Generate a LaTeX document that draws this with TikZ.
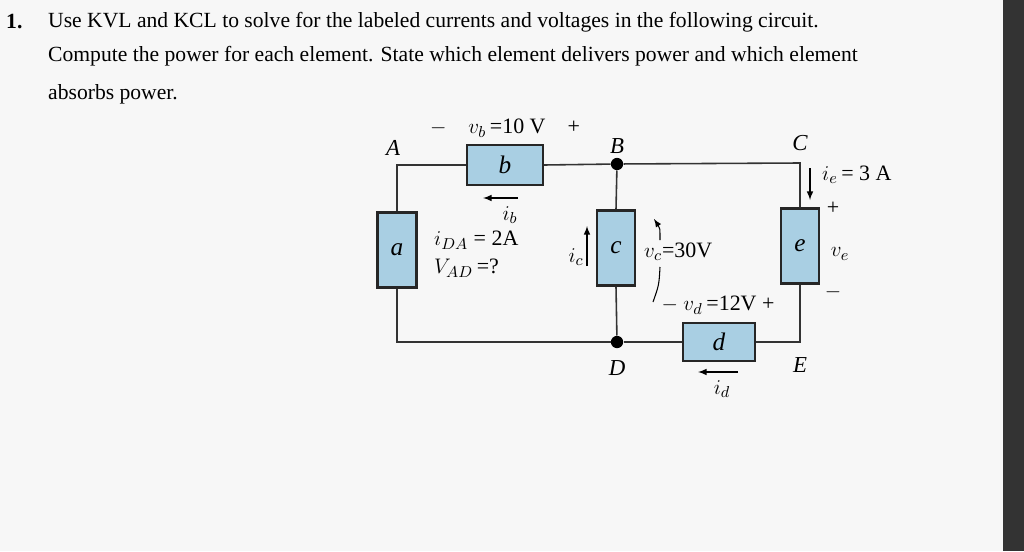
\documentclass[tikz,border=0pt]{standalone}
\usepackage{fontspec}
\setmainfont{Liberation Serif}
\definecolor{boxblue}{HTML}{A9CFE3}
\tikzset{
 el/.style={draw=black!85,line width=1.4pt,fill=boxblue},
 wire/.style={draw=black!80,line width=0.9pt},
 lbl/.style={font=\fontsize{13}{15}\selectfont\itshape},
 sm/.style={font=\fontsize{12.5}{15}\selectfont},
 txt/.style={font=\fontsize{12.3}{14}\selectfont,anchor=west},
 cur/.style={-latex,line width=0.7pt},
 dot/.style={circle,fill=black,inner sep=0pt,minimum size=7pt}
}
\begin{document}
\begin{tikzpicture}[x=0.02cm,y=-0.02cm]
\fill[gray!6] (0,0) rectangle (1024,551);
\fill[black!80] (1003,0) rectangle (1024,551);
\node[txt] at (0,22) {\textbf{1.}};
\node[txt] (l1) at (42,22) {Use KVL and KCL to solve for the labeled currents and voltages in the following circuit.};
\node[txt] (l2) at (42,56) {Compute the power for each element. State which element delivers power and which element};
\node[txt] (l3) at (42,94) {absorbs power.};
\coordinate (A) at (401,164);
\node[dot] (B) at (617,164) {};
\node[dot] (D) at (617,342) {};
\coordinate (C) at (800,163);
\node[el,minimum width=0.78cm,minimum height=1.5cm] (a) at (397,250) {\itshape\Large a};
\node[el,minimum width=1.52cm,minimum height=0.8cm] (b) at (505,165) {\itshape\Large b};
\node[el,minimum width=0.76cm,minimum height=1.5cm] (c) at (616,248) {\itshape\Large c};
\node[el,minimum width=0.76cm,minimum height=1.5cm] (e) at (800,246) {\itshape\Large e};
\node[el,minimum width=1.44cm,minimum height=0.76cm] (d) at (719,342) {\itshape\Large d};
\draw[wire] (a.north) |- (b.west);
\draw[wire] (b.east) -- (B) -- (C) -- (e.north);
\draw[wire] (B) -- (c.north);
\draw[wire] (c.south) -- (D);
\draw[wire] (a.south) |- (D) -- (d.west);
\draw[wire] (d.east) -| (e.south);
\node[lbl] at (393,148) {A};
\node[lbl] at (617,146) {B};
\node[lbl] at (800,143) {C};
\node[lbl] at (617,368) {D};
\node[lbl] at (800,365) {E};
\node[sm] at (505,128) {$-$\quad $v_b$\,=10 V\quad +};
\coordinate (ib1) at (518,198); \coordinate (ib2) at (483,198);
\draw[cur] (ib1) -- (ib2);
\node[sm] at (510,215) {$i_b$};
\node[sm,anchor=west] at (428,240) {$i_{DA}$ = 2A};
\node[sm,anchor=west] at (428,268) {$V_{AD}$\,=?};
\coordinate (ic1) at (587,266); \coordinate (ic2) at (587,226);
\draw[cur] (ic1) -- (ic2);
\node[sm] at (576,257) {$i_c$};
\node[sm,anchor=west] at (638,252) {$v_c$=30V};
\draw[-latex,line width=0.6pt] (660,240) .. controls (660,228) .. (654,219);
\draw[line width=0.6pt] (660,267) .. controls (659,285) .. (653,302);
\coordinate (ie1) at (810,168); \coordinate (ie2) at (810,200);
\draw[cur] (ie1) -- (ie2);
\node[sm,anchor=west] at (816,175) {$i_e$\,= 3 A};
\node[sm] at (833,208) {+};
\node[sm] at (840,254) {$v_e$};
\node[sm] at (833,292) {$-$};
\node[sm] at (718,305) {$-$ $v_d$\,=12V +};
\coordinate (id1) at (738,372); \coordinate (id2) at (698,372);
\draw[cur] (id1) -- (id2);
\node[sm] at (722,389) {$i_d$};
\end{tikzpicture}
\end{document}
